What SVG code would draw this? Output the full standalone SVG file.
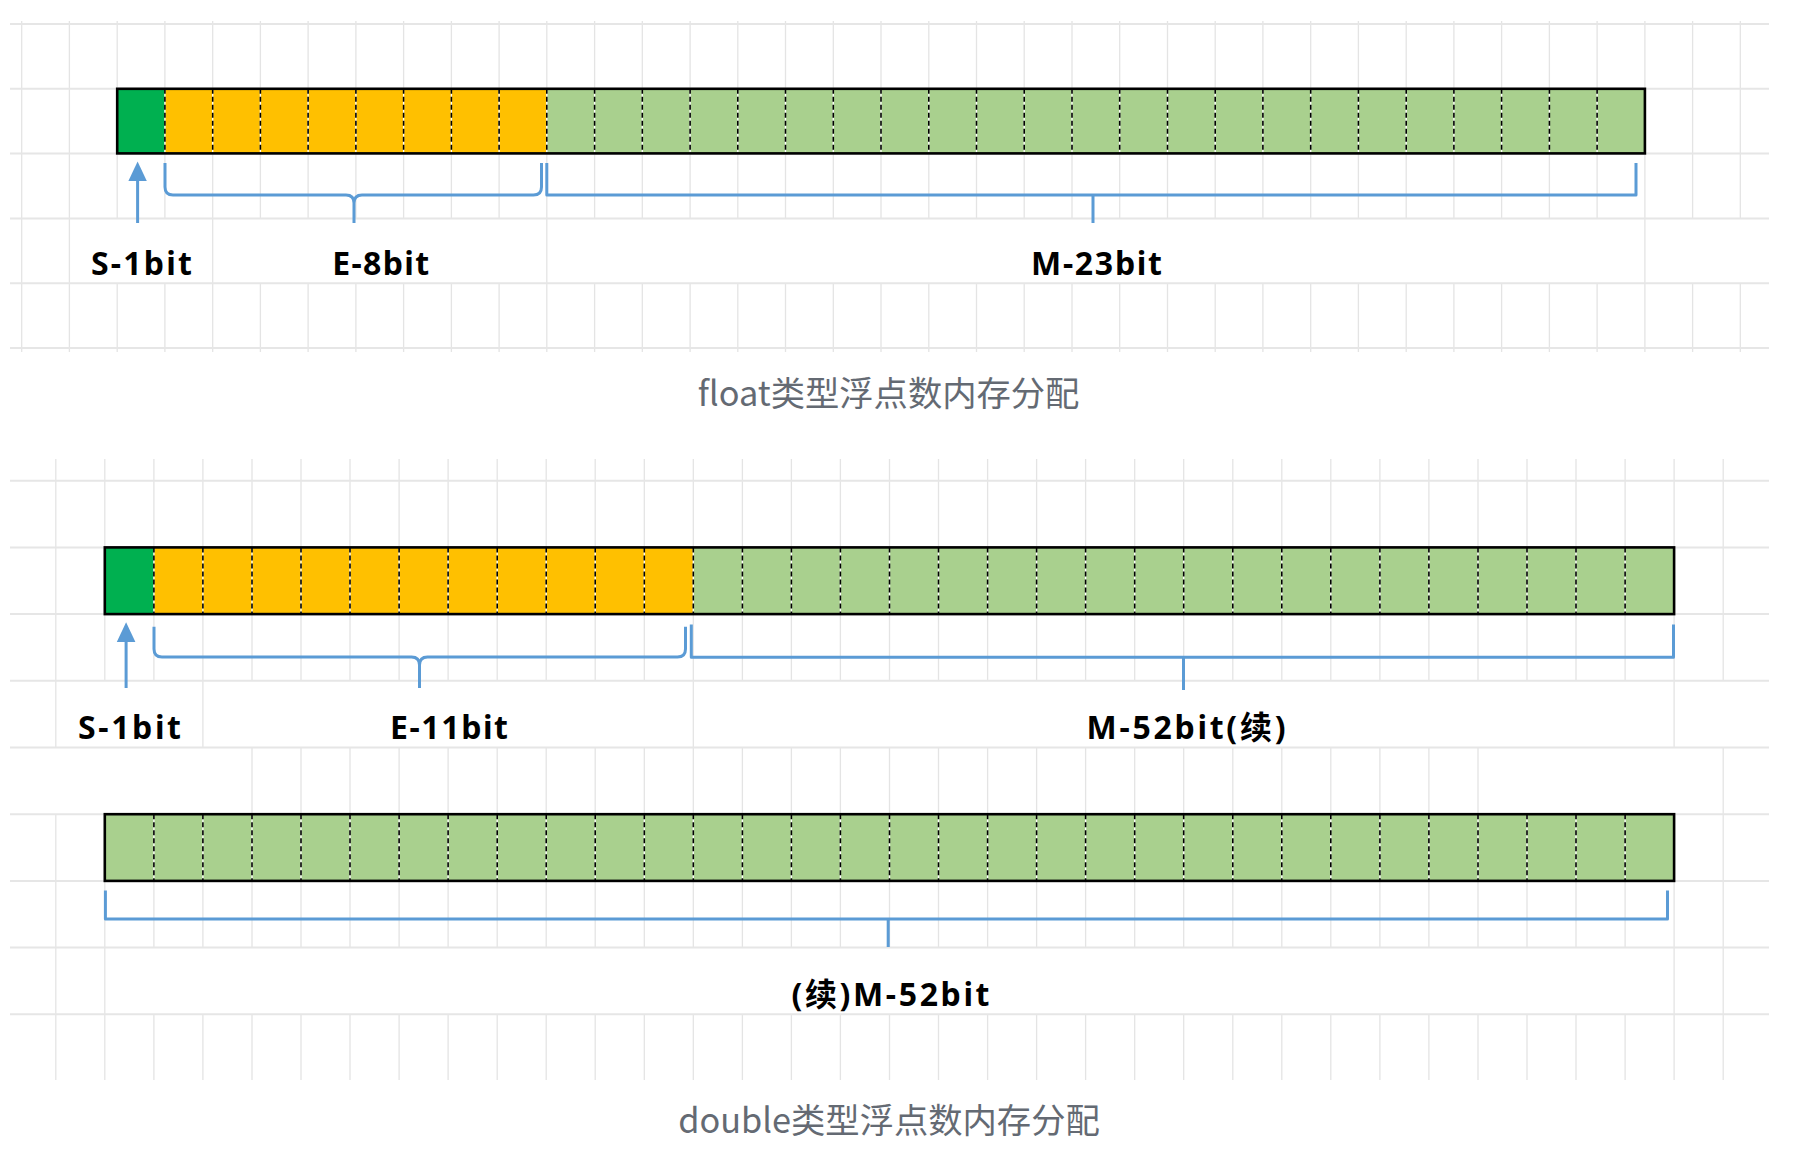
<svg xmlns="http://www.w3.org/2000/svg" xmlns:xlink="http://www.w3.org/1999/xlink" width="1816" height="1168" viewBox="0 0 1816 1168">
<style>
.gh{stroke:#e6e6e6;stroke-width:2;fill:none}
.gv{stroke:#e4e4e4;stroke-width:1.3;fill:none}
.outline{fill:none;stroke:#000;stroke-width:2.6}
.divw{stroke:#ffffff;stroke-width:1.3;fill:none}
.div{stroke:#000;stroke-width:1.6;stroke-dasharray:5 3;fill:none}
.s{fill:#00B050}
.e{fill:#FFC000}
.m{fill:#A9D08E}
.brace{fill:none;stroke:#5B9BD5;stroke-width:3;stroke-linejoin:round}
.ahead{fill:#5B9BD5}
.lbl{font-family:"Noto Sans","Noto Sans CJK SC",sans-serif;font-weight:700;font-size:32px;fill:#000;text-anchor:middle}
.cap{font-family:"Noto Sans CJK SC","Noto Sans",sans-serif;font-size:34.3px;fill:#646a73;text-anchor:middle}
</style>
<defs>
<path id="div1" d="M164.9 0V64.6M212.7 0V64.6M260.4 0V64.6M308.1 0V64.6M355.9 0V64.6M403.6 0V64.6M451.4 0V64.6M499.1 0V64.6M546.8 0V64.6M594.6 0V64.6M642.3 0V64.6M690.1 0V64.6M737.8 0V64.6M785.5 0V64.6M833.3 0V64.6M881 0V64.6M928.8 0V64.6M976.5 0V64.6M1024.2 0V64.6M1072 0V64.6M1119.7 0V64.6M1167.5 0V64.6M1215.2 0V64.6M1262.9 0V64.6M1310.7 0V64.6M1358.4 0V64.6M1406.2 0V64.6M1453.9 0V64.6M1501.6 0V64.6M1549.4 0V64.6M1597.1 0V64.6"/>
<path id="div2" d="M153.9 0V66.7M202.9 0V66.7M252 0V66.7M301 0V66.7M350 0V66.7M399.1 0V66.7M448.1 0V66.7M497.2 0V66.7M546.2 0V66.7M595.2 0V66.7M644.3 0V66.7M693.3 0V66.7M742.4 0V66.7M791.4 0V66.7M840.4 0V66.7M889.5 0V66.7M938.5 0V66.7M987.6 0V66.7M1036.6 0V66.7M1085.6 0V66.7M1134.7 0V66.7M1183.7 0V66.7M1232.8 0V66.7M1281.8 0V66.7M1330.8 0V66.7M1379.9 0V66.7M1428.9 0V66.7M1478 0V66.7M1527 0V66.7M1576 0V66.7M1625.1 0V66.7"/>
</defs>
<rect x="0" y="0" width="1816" height="1168" fill="#ffffff"/>

<g id="grid-float">
<path class="gv" d="M21.7 21V352M69.4 21V352M212.7 21V352M546.8 21V352M1644.9 21V352
M117.2 21V218.4M117.2 283.2V352M164.9 21V218.4M164.9 283.2V352M260.4 21V218.4M260.4 283.2V352M308.1 21V218.4M308.1 283.2V352M355.9 21V218.4M355.9 283.2V352M403.6 21V218.4M403.6 283.2V352M451.4 21V218.4M451.4 283.2V352M499.1 21V218.4M499.1 283.2V352
M594.6 21V218.4M594.6 283.2V352M642.3 21V218.4M642.3 283.2V352M690.1 21V218.4M690.1 283.2V352M737.8 21V218.4M737.8 283.2V352M785.5 21V218.4M785.5 283.2V352M833.3 21V218.4M833.3 283.2V352M881 21V218.4M881 283.2V352M928.8 21V218.4M928.8 283.2V352M976.5 21V218.4M976.5 283.2V352M1024.2 21V218.4M1024.2 283.2V352M1072 21V218.4M1072 283.2V352M1119.7 21V218.4M1119.7 283.2V352M1167.5 21V218.4M1167.5 283.2V352M1215.2 21V218.4M1215.2 283.2V352M1262.9 21V218.4M1262.9 283.2V352M1310.7 21V218.4M1310.7 283.2V352M1358.4 21V218.4M1358.4 283.2V352M1406.2 21V218.4M1406.2 283.2V352M1453.9 21V218.4M1453.9 283.2V352M1501.6 21V218.4M1501.6 283.2V352M1549.4 21V218.4M1549.4 283.2V352M1597.1 21V218.4M1597.1 283.2V352M1692.6 21V218.4M1692.6 283.2V352M1740.3 21V218.4M1740.3 283.2V352"/>
<path class="gh" d="M10 24H1769M10 88.8H1769M10 153.6H1769M10 218.4H1769M10 283.2H1769M10 348H1769"/>
</g>

<g id="grid-double">
<path class="gv" d="M55.8 459V747.5M55.8 814.2V1080
M104.8 459V680.8M104.8 814.2V1080
M153.9 459V680.8M153.9 814.2V947.6M153.9 1014.3V1080
M202.9 459V747.5M202.9 814.2V947.6M202.9 1014.3V1080
M252 459V680.8M252 747.5V947.6M252 1014.3V1080
M301 459V680.8M301 747.5V947.6M301 1014.3V1080
M350 459V680.8M350 747.5V947.6M350 1014.3V1080
M399.1 459V680.8M399.1 747.5V947.6M399.1 1014.3V1080
M448.1 459V680.8M448.1 747.5V947.6M448.1 1014.3V1080
M497.2 459V680.8M497.2 747.5V947.6M497.2 1014.3V1080
M546.2 459V680.8M546.2 747.5V947.6M546.2 1014.3V1080
M595.2 459V680.8M595.2 747.5V947.6M595.2 1014.3V1080
M644.3 459V680.8M644.3 747.5V947.6M644.3 1014.3V1080
M693.3 459V947.6M693.3 1014.3V1080
M742.4 459V680.8M742.4 747.5V947.6M742.4 1014.3V1080
M791.4 459V680.8M791.4 747.5V947.6M791.4 1014.3V1080
M840.4 459V680.8M840.4 747.5V947.6M840.4 1014.3V1080
M889.5 459V680.8M889.5 747.5V947.6M889.5 1014.3V1080
M938.5 459V680.8M938.5 747.5V947.6M938.5 1014.3V1080
M987.6 459V680.8M987.6 747.5V947.6M987.6 1014.3V1080
M1036.6 459V680.8M1036.6 747.5V947.6M1036.6 1014.3V1080
M1085.6 459V680.8M1085.6 747.5V947.6M1085.6 1014.3V1080
M1134.7 459V680.8M1134.7 747.5V947.6M1134.7 1014.3V1080
M1183.7 459V680.8M1183.7 747.5V947.6M1183.7 1014.3V1080
M1232.8 459V680.8M1232.8 747.5V947.6M1232.8 1014.3V1080
M1281.8 459V680.8M1281.8 747.5V947.6M1281.8 1014.3V1080
M1330.8 459V680.8M1330.8 747.5V947.6M1330.8 1014.3V1080
M1379.9 459V680.8M1379.9 747.5V947.6M1379.9 1014.3V1080
M1428.9 459V680.8M1428.9 747.5V947.6M1428.9 1014.3V1080
M1478 459V680.8M1478 747.5V947.6M1478 1014.3V1080
M1527 459V680.8M1527 814.2V947.6M1527 1014.3V1080
M1576 459V680.8M1576 814.2V947.6M1576 1014.3V1080
M1625.1 459V680.8M1625.1 814.2V947.6M1625.1 1014.3V1080
M1674.1 459V747.5M1674.1 814.2V1080
M1723.2 459V680.8M1723.2 747.5V1080"/>
<path class="gh" d="M10 480.7H1769M10 547.4H1769M10 614.1H1769M10 680.8H1769M10 747.5H1769M10 814.2H1769M10 880.9H1769M10 947.6H1769M10 1014.3H1769"/>
</g>

<g id="float-bar">
<rect class="s" x="117.2" y="88.8" width="47.7" height="64.6"/>
<rect class="e" x="164.9" y="88.8" width="381.9" height="64.6"/>
<rect class="m" x="546.8" y="88.8" width="1098.1" height="64.6"/>
<use href="#div1" y="88.8" class="divw"/>
<use href="#div1" y="88.8" class="div"/>
<rect class="outline" x="117.2" y="88.8" width="1527.7" height="64.6"/>
</g>

<g id="double-bar-1">
<rect class="s" x="104.8" y="547.4" width="49.1" height="66.7"/>
<rect class="e" x="153.9" y="547.4" width="539.4" height="66.7"/>
<rect class="m" x="693.3" y="547.4" width="980.8" height="66.7"/>
<use href="#div2" y="547.4" class="divw"/>
<use href="#div2" y="547.4" class="div"/>
<rect class="outline" x="104.8" y="547.4" width="1569.3" height="66.7"/>
</g>

<g id="double-bar-2">
<rect class="m" x="104.8" y="814.2" width="1569.3" height="66.7"/>
<use href="#div2" y="814.2" class="divw"/>
<use href="#div2" y="814.2" class="div"/>
<rect class="outline" x="104.8" y="814.2" width="1569.3" height="66.7"/>
</g>

<g id="connectors">
<path class="brace" d="M137.6 223V178"/>
<polygon class="ahead" points="137.6,161.5 128.4,181 146.8,181"/>
<path class="brace" d="M165 163V187Q165 195 173 195H346Q354 195 354 203V223M541.5 163V187Q541.5 195 533.5 195H362Q354 195 354 203"/>
<path class="brace" d="M546.8 163V195H1636V163M1093 195V223"/>

<path class="brace" d="M126.1 688V639"/>
<polygon class="ahead" points="126.1,622.3 116.8,642 135.4,642"/>
<path class="brace" d="M154 626.7V649Q154 657 162 657H411.5Q419.5 657 419.5 665V688M685.5 626.7V649Q685.5 657 677.5 657H427.5Q419.5 657 419.5 665"/>
<path class="brace" d="M691.3 624.5V657.3H1673.5V624.5M1183.5 657.3V690"/>

<path class="brace" d="M105.4 890.5V919H1667.5V890.5M888.2 919V947"/>
</g>

<g id="labels-float">
<text class="lbl" x="141.5" y="275" textLength="101" lengthAdjust="spacing">S-1bit</text>
<text class="lbl" x="380.7" y="275" textLength="97" lengthAdjust="spacing">E-8bit</text>
<text class="lbl" x="1096.5" y="275" textLength="131" lengthAdjust="spacing">M-23bit</text>
</g>
<g id="labels-double">
<text class="lbl" x="129.5" y="739" textLength="103" lengthAdjust="spacing">S-1bit</text>
<text class="lbl" x="449" y="739" textLength="118" lengthAdjust="spacing">E-11bit</text>
<text class="lbl" x="1186" y="739" textLength="199" lengthAdjust="spacing">M-52bit(续)</text>
<text class="lbl" x="890.5" y="1006" textLength="198" lengthAdjust="spacing">(续)M-52bit</text>
</g>

<g id="captions">
<text class="cap" x="888.6" y="406">float类型浮点数内存分配</text>
<text class="cap" x="889" y="1133">double类型浮点数内存分配</text>
</g>
</svg>
